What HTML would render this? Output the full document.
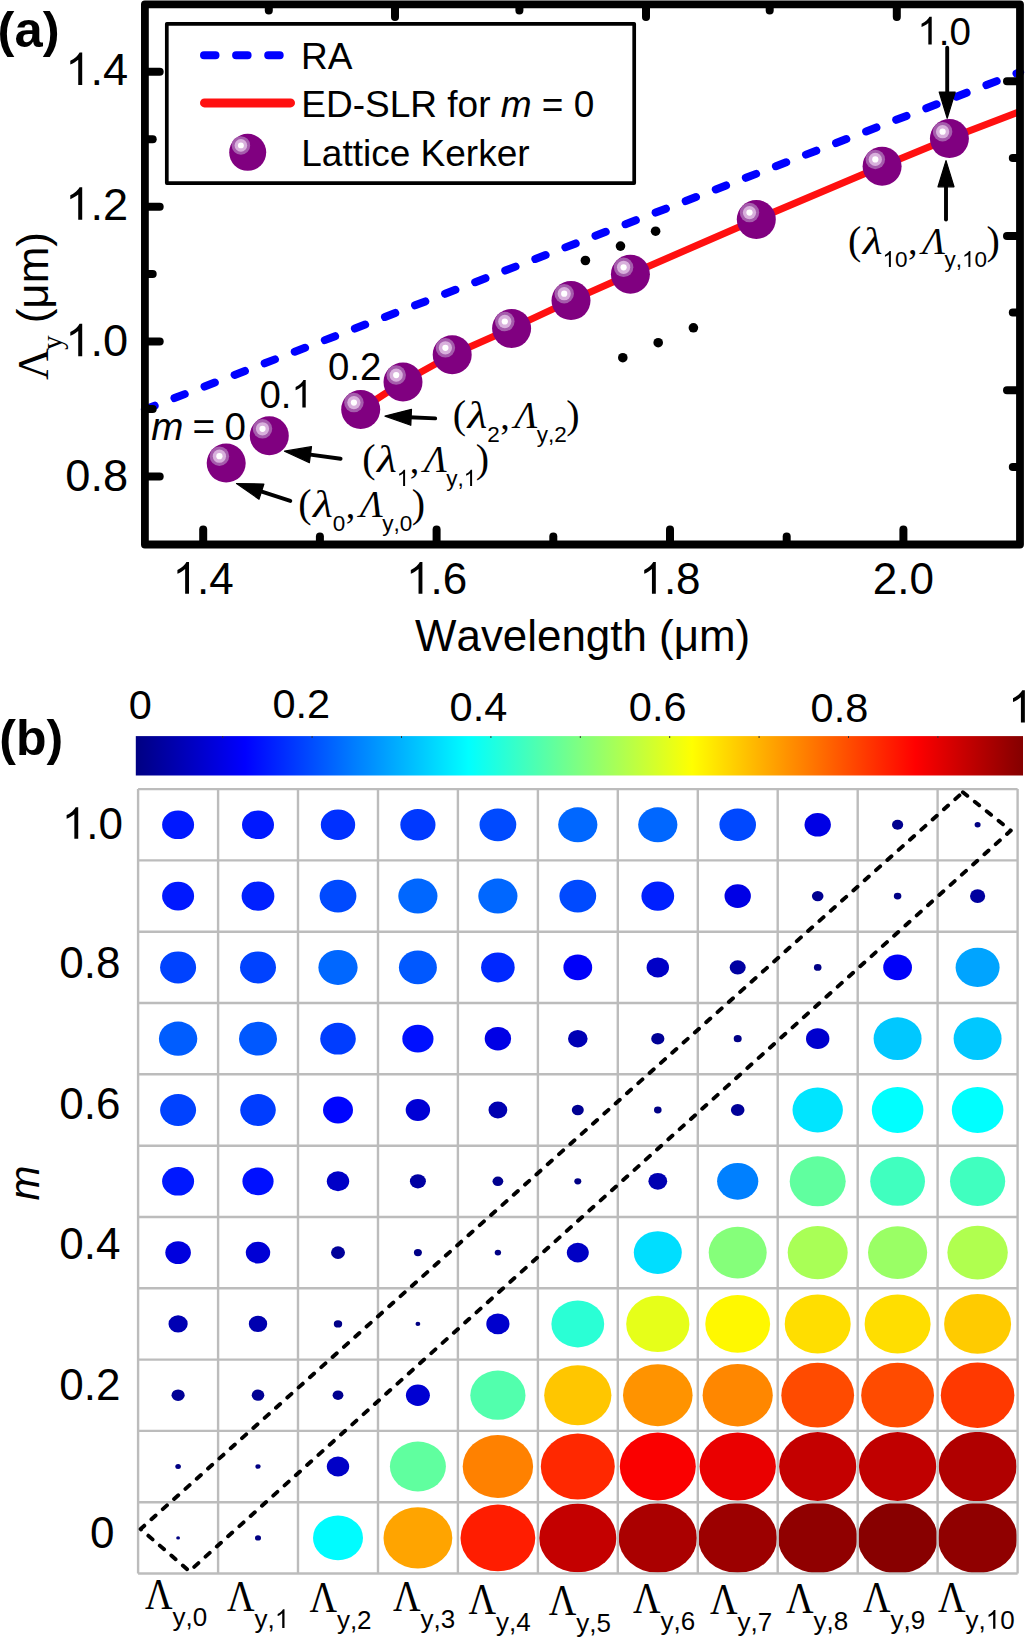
<!DOCTYPE html>
<html><head><meta charset="utf-8"><style>
html,body{margin:0;padding:0;background:#fff;}
svg{display:block;} text{font-kerning:none;}
</style></head><body>
<svg width="1025" height="1638" viewBox="0 0 1025 1638">
<rect width="1025" height="1638" fill="#fff"/>
<line x1="144.9" y1="409.5" x2="1020.1" y2="72.1" stroke="#0000ff" stroke-width="8" stroke-linecap="round" stroke-dasharray="11 21.23" stroke-dashoffset="0.53"/>
<path d="M360.7,409.5 L403.0,382.0 L452.2,354.7 L511.6,328.4 L571.0,300.6 L630.4,274.2 L756.3,219.5 L882.1,166.3 L949.4,138.6 L1020.0,111.5" fill="none" stroke="#ff1010" stroke-width="7" stroke-linejoin="round"/>
<circle cx="585.4" cy="260.5" r="4.8" fill="#000"/>
<circle cx="620.5" cy="246.1" r="4.8" fill="#000"/>
<circle cx="655.6" cy="231.2" r="4.8" fill="#000"/>
<circle cx="622.8" cy="357.7" r="4.8" fill="#000"/>
<circle cx="658.2" cy="342.7" r="4.8" fill="#000"/>
<circle cx="693.4" cy="327.8" r="4.8" fill="#000"/>
<circle cx="226.2" cy="463.1" r="19.5" fill="#800080"/>
<circle cx="219.4" cy="456.2" r="9.75" fill="#a55cac"/>
<circle cx="219.4" cy="456.2" r="6.63" fill="#d8b0dc"/>
<circle cx="219.4" cy="456.2" r="3.12" fill="#fff"/>
<circle cx="269.3" cy="435.7" r="19.5" fill="#800080"/>
<circle cx="262.5" cy="428.8" r="9.75" fill="#a55cac"/>
<circle cx="262.5" cy="428.8" r="6.63" fill="#d8b0dc"/>
<circle cx="262.5" cy="428.8" r="3.12" fill="#fff"/>
<circle cx="360.7" cy="409.5" r="19.5" fill="#800080"/>
<circle cx="353.9" cy="402.6" r="9.75" fill="#a55cac"/>
<circle cx="353.9" cy="402.6" r="6.63" fill="#d8b0dc"/>
<circle cx="353.9" cy="402.6" r="3.12" fill="#fff"/>
<circle cx="403.0" cy="382.0" r="19.5" fill="#800080"/>
<circle cx="396.2" cy="375.1" r="9.75" fill="#a55cac"/>
<circle cx="396.2" cy="375.1" r="6.63" fill="#d8b0dc"/>
<circle cx="396.2" cy="375.1" r="3.12" fill="#fff"/>
<circle cx="452.2" cy="354.7" r="19.5" fill="#800080"/>
<circle cx="445.4" cy="347.8" r="9.75" fill="#a55cac"/>
<circle cx="445.4" cy="347.8" r="6.63" fill="#d8b0dc"/>
<circle cx="445.4" cy="347.8" r="3.12" fill="#fff"/>
<circle cx="511.6" cy="328.4" r="19.5" fill="#800080"/>
<circle cx="504.8" cy="321.5" r="9.75" fill="#a55cac"/>
<circle cx="504.8" cy="321.5" r="6.63" fill="#d8b0dc"/>
<circle cx="504.8" cy="321.5" r="3.12" fill="#fff"/>
<circle cx="571.0" cy="300.6" r="19.5" fill="#800080"/>
<circle cx="564.2" cy="293.7" r="9.75" fill="#a55cac"/>
<circle cx="564.2" cy="293.7" r="6.63" fill="#d8b0dc"/>
<circle cx="564.2" cy="293.7" r="3.12" fill="#fff"/>
<circle cx="630.4" cy="274.2" r="19.5" fill="#800080"/>
<circle cx="623.6" cy="267.3" r="9.75" fill="#a55cac"/>
<circle cx="623.6" cy="267.3" r="6.63" fill="#d8b0dc"/>
<circle cx="623.6" cy="267.3" r="3.12" fill="#fff"/>
<circle cx="756.3" cy="219.5" r="19.5" fill="#800080"/>
<circle cx="749.5" cy="212.6" r="9.75" fill="#a55cac"/>
<circle cx="749.5" cy="212.6" r="6.63" fill="#d8b0dc"/>
<circle cx="749.5" cy="212.6" r="3.12" fill="#fff"/>
<circle cx="882.1" cy="166.3" r="19.5" fill="#800080"/>
<circle cx="875.3" cy="159.4" r="9.75" fill="#a55cac"/>
<circle cx="875.3" cy="159.4" r="6.63" fill="#d8b0dc"/>
<circle cx="875.3" cy="159.4" r="3.12" fill="#fff"/>
<circle cx="949.4" cy="138.6" r="19.5" fill="#800080"/>
<circle cx="942.6" cy="131.7" r="9.75" fill="#a55cac"/>
<circle cx="942.6" cy="131.7" r="6.63" fill="#d8b0dc"/>
<circle cx="942.6" cy="131.7" r="3.12" fill="#fff"/>
<rect x="144.9" y="4.3" width="875.1" height="540.2" fill="none" stroke="#000" stroke-width="7.8" stroke-linejoin="round"/>
<line x1="146" y1="71.7" x2="159.7" y2="71.7" stroke="#000" stroke-width="8" stroke-linecap="round"/>
<line x1="146" y1="206.7" x2="159.7" y2="206.7" stroke="#000" stroke-width="8" stroke-linecap="round"/>
<line x1="146" y1="341.6" x2="159.7" y2="341.6" stroke="#000" stroke-width="8" stroke-linecap="round"/>
<line x1="146" y1="476.6" x2="159.7" y2="476.6" stroke="#000" stroke-width="8" stroke-linecap="round"/>
<line x1="146" y1="139.2" x2="152.7" y2="139.2" stroke="#000" stroke-width="8" stroke-linecap="round"/>
<line x1="146" y1="274.1" x2="152.7" y2="274.1" stroke="#000" stroke-width="8" stroke-linecap="round"/>
<line x1="146" y1="409.1" x2="152.7" y2="409.1" stroke="#000" stroke-width="8" stroke-linecap="round"/>
<line x1="1019" y1="81.3" x2="1007" y2="81.3" stroke="#000" stroke-width="8" stroke-linecap="round"/>
<line x1="1019" y1="235.9" x2="1007" y2="235.9" stroke="#000" stroke-width="8" stroke-linecap="round"/>
<line x1="1019" y1="390.2" x2="1007" y2="390.2" stroke="#000" stroke-width="8" stroke-linecap="round"/>
<line x1="1019" y1="158.1" x2="1012.8" y2="158.1" stroke="#000" stroke-width="8" stroke-linecap="round"/>
<line x1="1019" y1="312.4" x2="1012.8" y2="312.4" stroke="#000" stroke-width="8" stroke-linecap="round"/>
<line x1="1019" y1="467.0" x2="1012.8" y2="467.0" stroke="#000" stroke-width="8" stroke-linecap="round"/>
<line x1="203.2" y1="543" x2="203.2" y2="529.6" stroke="#000" stroke-width="8" stroke-linecap="round"/>
<line x1="436.6" y1="543" x2="436.6" y2="529.6" stroke="#000" stroke-width="8" stroke-linecap="round"/>
<line x1="670.0" y1="543" x2="670.0" y2="529.6" stroke="#000" stroke-width="8" stroke-linecap="round"/>
<line x1="903.4" y1="543" x2="903.4" y2="529.6" stroke="#000" stroke-width="8" stroke-linecap="round"/>
<line x1="319.9" y1="543" x2="319.9" y2="536.5" stroke="#000" stroke-width="8" stroke-linecap="round"/>
<line x1="553.3" y1="543" x2="553.3" y2="536.5" stroke="#000" stroke-width="8" stroke-linecap="round"/>
<line x1="786.7" y1="543" x2="786.7" y2="536.5" stroke="#000" stroke-width="8" stroke-linecap="round"/>
<line x1="395.0" y1="5" x2="395.0" y2="17" stroke="#000" stroke-width="8" stroke-linecap="round"/>
<line x1="646.0" y1="5" x2="646.0" y2="17" stroke="#000" stroke-width="8" stroke-linecap="round"/>
<line x1="896.8" y1="5" x2="896.8" y2="17" stroke="#000" stroke-width="8" stroke-linecap="round"/>
<line x1="268.8" y1="5" x2="268.8" y2="10.5" stroke="#000" stroke-width="8" stroke-linecap="round"/>
<line x1="519.4" y1="5" x2="519.4" y2="10.5" stroke="#000" stroke-width="8" stroke-linecap="round"/>
<line x1="769.7" y1="5" x2="769.7" y2="10.5" stroke="#000" stroke-width="8" stroke-linecap="round"/>
<path transform="translate(65.37,85.1) scale(0.022070,-0.022070)" d="M763,0 L583,0 L583,1147 Q518,1085 412,1023 Q306,961 223,930 L223,1104 Q373,1175 485,1276 Q597,1377 644,1472 L763,1472 Z" fill="#000"/>
<text x="90.50" y="85.1" font-family='"Liberation Sans", sans-serif' font-size="45.2" >.4</text>
<path transform="translate(65.37,219.7) scale(0.022070,-0.022070)" d="M763,0 L583,0 L583,1147 Q518,1085 412,1023 Q306,961 223,930 L223,1104 Q373,1175 485,1276 Q597,1377 644,1472 L763,1472 Z" fill="#000"/>
<text x="90.50" y="219.7" font-family='"Liberation Sans", sans-serif' font-size="45.2" >.2</text>
<path transform="translate(65.37,356.3) scale(0.022070,-0.022070)" d="M763,0 L583,0 L583,1147 Q518,1085 412,1023 Q306,961 223,930 L223,1104 Q373,1175 485,1276 Q597,1377 644,1472 L763,1472 Z" fill="#000"/>
<text x="90.50" y="356.3" font-family='"Liberation Sans", sans-serif' font-size="45.2" >.0</text>
<text x="128.2" y="491.3" font-family='"Liberation Sans", sans-serif' font-size="45.2" text-anchor="end" >0.8</text>
<path transform="translate(172.62,593.7) scale(0.021484,-0.021484)" d="M763,0 L583,0 L583,1147 Q518,1085 412,1023 Q306,961 223,930 L223,1104 Q373,1175 485,1276 Q597,1377 644,1472 L763,1472 Z" fill="#000"/>
<text x="197.09" y="593.7" font-family='"Liberation Sans", sans-serif' font-size="44" >.4</text>
<path transform="translate(406.02,593.7) scale(0.021484,-0.021484)" d="M763,0 L583,0 L583,1147 Q518,1085 412,1023 Q306,961 223,930 L223,1104 Q373,1175 485,1276 Q597,1377 644,1472 L763,1472 Z" fill="#000"/>
<text x="430.49" y="593.7" font-family='"Liberation Sans", sans-serif' font-size="44" >.6</text>
<path transform="translate(639.42,593.7) scale(0.021484,-0.021484)" d="M763,0 L583,0 L583,1147 Q518,1085 412,1023 Q306,961 223,930 L223,1104 Q373,1175 485,1276 Q597,1377 644,1472 L763,1472 Z" fill="#000"/>
<text x="663.89" y="593.7" font-family='"Liberation Sans", sans-serif' font-size="44" >.8</text>
<text x="903.4" y="593.7" font-family='"Liberation Sans", sans-serif' font-size="44" text-anchor="middle" >2.0</text>
<text x="582.6" y="650.6" font-family='"Liberation Sans", sans-serif' font-size="43.9" text-anchor="middle" >Wavelength (&#956;m)</text>
<g transform="translate(47.7,380) rotate(-90)"><text x="0" y="0" font-size="44" font-family='"Liberation Serif", serif'>&#923;<tspan font-size="29" dx="-2" dy="14">y</tspan><tspan font-family='"Liberation Sans", sans-serif' font-size="44" dy="-14"> (&#956;m)</tspan></text></g>
<text x="-2.4" y="46.7" font-family='"Liberation Sans", sans-serif' font-size="50.7" text-anchor="start" font-weight="bold">(a)</text>
<rect x="166.8" y="23.8" width="467.4" height="159.3" fill="#fff" stroke="#000" stroke-width="3.7" stroke-linejoin="round"/>
<line x1="204" y1="55.2" x2="284" y2="55.2" stroke="#0000ff" stroke-width="8" stroke-linecap="round" stroke-dasharray="11.5 20.6"/>
<line x1="204.5" y1="102.9" x2="290.5" y2="102.9" stroke="#ff1010" stroke-width="9" stroke-linecap="round"/>
<circle cx="247.7" cy="152.3" r="18.5" fill="#800080"/>
<circle cx="240.9" cy="145.4" r="9.25" fill="#a55cac"/>
<circle cx="240.9" cy="145.4" r="6.29" fill="#d8b0dc"/>
<circle cx="240.9" cy="145.4" r="2.96" fill="#fff"/>
<text x="301" y="69.3" font-family='"Liberation Sans", sans-serif' font-size="37" text-anchor="start" >RA</text>
<text x="301.3" y="116.8" font-family='"Liberation Sans", sans-serif' font-size="37">ED-SLR for <tspan font-style="italic">m</tspan> = 0</text>
<text x="301.3" y="165.8" font-family='"Liberation Sans", sans-serif' font-size="37" text-anchor="start" >Lattice Kerker</text>
<text x="151.2" y="439.6" font-family='"Liberation Sans", sans-serif' font-size="38.6"><tspan font-style="italic">m</tspan><tspan dx="-1.5"> =</tspan><tspan dx="-1.3"> 0</tspan></text>
<text x="259.40" y="407.6" font-family='"Liberation Sans", sans-serif' font-size="38.4" >0.</text>
<path transform="translate(291.42,407.6) scale(0.018750,-0.018750)" d="M763,0 L583,0 L583,1147 Q518,1085 412,1023 Q306,961 223,930 L223,1104 Q373,1175 485,1276 Q597,1377 644,1472 L763,1472 Z" fill="#000"/>
<text x="328" y="380.2" font-family='"Liberation Sans", sans-serif' font-size="38.4" text-anchor="start" >0.2</text>
<path transform="translate(917.34,44.5) scale(0.018848,-0.018848)" d="M763,0 L583,0 L583,1147 Q518,1085 412,1023 Q306,961 223,930 L223,1104 Q373,1175 485,1276 Q597,1377 644,1472 L763,1472 Z" fill="#000"/>
<text x="938.81" y="44.5" font-family='"Liberation Sans", sans-serif' font-size="38.6" >.0</text>
<line x1="290.3" y1="500.9" x2="259.5" y2="490.9" stroke="#000" stroke-width="3.9" stroke-linecap="round"/>
<polygon points="236.5,483.5 263.9,484.0 259.0,499.2" fill="#000" stroke="#000" stroke-width="1.2" stroke-linejoin="round"/>
<line x1="340.6" y1="458.7" x2="308.5" y2="454.4" stroke="#000" stroke-width="3.9" stroke-linecap="round"/>
<polygon points="284.5,451.2 311.5,446.7 309.4,462.6" fill="#000" stroke="#000" stroke-width="1.2" stroke-linejoin="round"/>
<line x1="435.2" y1="418.4" x2="409.2" y2="417.2" stroke="#000" stroke-width="3.9" stroke-linecap="round"/>
<polygon points="385.0,416.1 411.5,409.3 410.8,425.3" fill="#000" stroke="#000" stroke-width="1.2" stroke-linejoin="round"/>
<line x1="947.2" y1="47.8" x2="947.2" y2="94.0" stroke="#000" stroke-width="3.9" stroke-linecap="round"/>
<polygon points="947.2,118.2 939.2,92.0 955.2,92.0" fill="#000" stroke="#000" stroke-width="1.2" stroke-linejoin="round"/>
<line x1="946.0" y1="219.6" x2="946.0" y2="184.8" stroke="#000" stroke-width="3.9" stroke-linecap="round"/>
<polygon points="946.0,160.6 954.0,186.8 938.0,186.8" fill="#000" stroke="#000" stroke-width="1.2" stroke-linejoin="round"/>
<text x="298.2" y="517.4" font-family='"Liberation Serif", serif' font-size="40" font-style="normal">(</text>
<text transform="translate(312.9,517.4) scale(1.2,1)" font-family='"Liberation Serif", serif' font-size="38" font-style="italic">&#955;</text>
<text x="332.70" y="530.9" font-family='"Liberation Sans", sans-serif' font-size="22.5" >0</text>
<text x="345.7" y="518.0" font-family='"Liberation Serif", serif' font-size="38" font-style="normal">,</text>
<text x="359.9" y="517.4" font-family='"Liberation Serif", serif' font-size="38" font-style="italic">&#923;</text>
<text x="382.20" y="530.9" font-family='"Liberation Sans", sans-serif' font-size="22.5" >y,0</text>
<text x="411.7" y="517.4" font-family='"Liberation Serif", serif' font-size="40" font-style="normal">)</text>
<text x="362.2" y="472.4" font-family='"Liberation Serif", serif' font-size="40" font-style="normal">(</text>
<text transform="translate(376.9,472.4) scale(1.2,1)" font-family='"Liberation Serif", serif' font-size="38" font-style="italic">&#955;</text>
<path transform="translate(396.70,485.90000000000003) scale(0.010986,-0.010986)" d="M763,0 L583,0 L583,1147 Q518,1085 412,1023 Q306,961 223,930 L223,1104 Q373,1175 485,1276 Q597,1377 644,1472 L763,1472 Z" fill="#000"/>
<text x="409.7" y="473.0" font-family='"Liberation Serif", serif' font-size="38" font-style="normal">,</text>
<text x="423.9" y="472.4" font-family='"Liberation Serif", serif' font-size="38" font-style="italic">&#923;</text>
<text x="446.20" y="485.90000000000003" font-family='"Liberation Sans", sans-serif' font-size="22.5" >y,</text>
<path transform="translate(463.70,485.90000000000003) scale(0.010986,-0.010986)" d="M763,0 L583,0 L583,1147 Q518,1085 412,1023 Q306,961 223,930 L223,1104 Q373,1175 485,1276 Q597,1377 644,1472 L763,1472 Z" fill="#000"/>
<text x="475.7" y="472.4" font-family='"Liberation Serif", serif' font-size="40" font-style="normal">)</text>
<text x="452.8" y="428.4" font-family='"Liberation Serif", serif' font-size="40" font-style="normal">(</text>
<text transform="translate(467.5,428.4) scale(1.2,1)" font-family='"Liberation Serif", serif' font-size="38" font-style="italic">&#955;</text>
<text x="487.30" y="441.90000000000003" font-family='"Liberation Sans", sans-serif' font-size="22.5" >2</text>
<text x="500.3" y="429.0" font-family='"Liberation Serif", serif' font-size="38" font-style="normal">,</text>
<text x="514.5" y="428.4" font-family='"Liberation Serif", serif' font-size="38" font-style="italic">&#923;</text>
<text x="536.80" y="441.90000000000003" font-family='"Liberation Sans", sans-serif' font-size="22.5" >y,2</text>
<text x="566.3" y="428.4" font-family='"Liberation Serif", serif' font-size="40" font-style="normal">)</text>
<text x="848.0" y="253.6" font-family='"Liberation Serif", serif' font-size="40" font-style="normal">(</text>
<text transform="translate(862.7,253.6) scale(1.2,1)" font-family='"Liberation Serif", serif' font-size="38" font-style="italic">&#955;</text>
<path transform="translate(882.50,267.1) scale(0.010986,-0.010986)" d="M763,0 L583,0 L583,1147 Q518,1085 412,1023 Q306,961 223,930 L223,1104 Q373,1175 485,1276 Q597,1377 644,1472 L763,1472 Z" fill="#000"/>
<text x="895.01" y="267.1" font-family='"Liberation Sans", sans-serif' font-size="22.5" >0</text>
<text x="908.0" y="254.2" font-family='"Liberation Serif", serif' font-size="38" font-style="normal">,</text>
<text x="922.2" y="253.6" font-family='"Liberation Serif", serif' font-size="38" font-style="italic">&#923;</text>
<text x="944.50" y="267.1" font-family='"Liberation Sans", sans-serif' font-size="22.5" >y,</text>
<path transform="translate(962.00,267.1) scale(0.010986,-0.010986)" d="M763,0 L583,0 L583,1147 Q518,1085 412,1023 Q306,961 223,930 L223,1104 Q373,1175 485,1276 Q597,1377 644,1472 L763,1472 Z" fill="#000"/>
<text x="974.51" y="267.1" font-family='"Liberation Sans", sans-serif' font-size="22.5" >0</text>
<text x="986.5" y="253.6" font-family='"Liberation Serif", serif' font-size="40" font-style="normal">)</text>
<text x="-0.7" y="755.3" font-family='"Liberation Sans", sans-serif' font-size="50" text-anchor="start" font-weight="bold">(b)</text>
<defs><linearGradient id="jet" gradientUnits="userSpaceOnUse" x1="133.3" x2="1027.3" y1="0" y2="0"><stop offset="0.0000" stop-color="#000080"/><stop offset="0.0156" stop-color="#00008f"/><stop offset="0.0312" stop-color="#00009f"/><stop offset="0.0469" stop-color="#0000af"/><stop offset="0.0625" stop-color="#0000bf"/><stop offset="0.0781" stop-color="#0000cf"/><stop offset="0.0938" stop-color="#0000df"/><stop offset="0.1094" stop-color="#0000ef"/><stop offset="0.1250" stop-color="#0000ff"/><stop offset="0.1406" stop-color="#0010ff"/><stop offset="0.1562" stop-color="#0020ff"/><stop offset="0.1719" stop-color="#0030ff"/><stop offset="0.1875" stop-color="#0040ff"/><stop offset="0.2031" stop-color="#0050ff"/><stop offset="0.2188" stop-color="#0060ff"/><stop offset="0.2344" stop-color="#0070ff"/><stop offset="0.2500" stop-color="#0080ff"/><stop offset="0.2656" stop-color="#008fff"/><stop offset="0.2812" stop-color="#009fff"/><stop offset="0.2969" stop-color="#00afff"/><stop offset="0.3125" stop-color="#00bfff"/><stop offset="0.3281" stop-color="#00cfff"/><stop offset="0.3438" stop-color="#00dfff"/><stop offset="0.3594" stop-color="#00efff"/><stop offset="0.3750" stop-color="#00ffff"/><stop offset="0.3906" stop-color="#10ffef"/><stop offset="0.4062" stop-color="#20ffdf"/><stop offset="0.4219" stop-color="#30ffcf"/><stop offset="0.4375" stop-color="#40ffbf"/><stop offset="0.4531" stop-color="#50ffaf"/><stop offset="0.4688" stop-color="#60ff9f"/><stop offset="0.4844" stop-color="#70ff8f"/><stop offset="0.5000" stop-color="#80ff80"/><stop offset="0.5156" stop-color="#8fff70"/><stop offset="0.5312" stop-color="#9fff60"/><stop offset="0.5469" stop-color="#afff50"/><stop offset="0.5625" stop-color="#bfff40"/><stop offset="0.5781" stop-color="#cfff30"/><stop offset="0.5938" stop-color="#dfff20"/><stop offset="0.6094" stop-color="#efff10"/><stop offset="0.6250" stop-color="#ffff00"/><stop offset="0.6406" stop-color="#ffef00"/><stop offset="0.6562" stop-color="#ffdf00"/><stop offset="0.6719" stop-color="#ffcf00"/><stop offset="0.6875" stop-color="#ffbf00"/><stop offset="0.7031" stop-color="#ffaf00"/><stop offset="0.7188" stop-color="#ff9f00"/><stop offset="0.7344" stop-color="#ff8f00"/><stop offset="0.7500" stop-color="#ff8000"/><stop offset="0.7656" stop-color="#ff7000"/><stop offset="0.7812" stop-color="#ff6000"/><stop offset="0.7969" stop-color="#ff5000"/><stop offset="0.8125" stop-color="#ff4000"/><stop offset="0.8281" stop-color="#ff3000"/><stop offset="0.8438" stop-color="#ff2000"/><stop offset="0.8594" stop-color="#ff1000"/><stop offset="0.8750" stop-color="#ff0000"/><stop offset="0.8906" stop-color="#ef0000"/><stop offset="0.9062" stop-color="#df0000"/><stop offset="0.9219" stop-color="#cf0000"/><stop offset="0.9375" stop-color="#bf0000"/><stop offset="0.9531" stop-color="#af0000"/><stop offset="0.9688" stop-color="#9f0000"/><stop offset="0.9844" stop-color="#8f0000"/><stop offset="1.0000" stop-color="#800000"/></linearGradient></defs>
<rect x="135.8" y="736.1" width="887.2" height="39.4" fill="url(#jet)"/>
<line x1="222.7" y1="736.1" x2="222.7" y2="738" stroke="#333" stroke-width="1"/>
<line x1="312.1" y1="736.1" x2="312.1" y2="738" stroke="#333" stroke-width="1"/>
<line x1="401.5" y1="736.1" x2="401.5" y2="738" stroke="#333" stroke-width="1"/>
<line x1="490.9" y1="736.1" x2="490.9" y2="738" stroke="#333" stroke-width="1"/>
<line x1="580.3" y1="736.1" x2="580.3" y2="738" stroke="#333" stroke-width="1"/>
<line x1="669.7" y1="736.1" x2="669.7" y2="738" stroke="#333" stroke-width="1"/>
<line x1="759.1" y1="736.1" x2="759.1" y2="738" stroke="#333" stroke-width="1"/>
<line x1="848.5" y1="736.1" x2="848.5" y2="738" stroke="#333" stroke-width="1"/>
<line x1="937.9" y1="736.1" x2="937.9" y2="738" stroke="#333" stroke-width="1"/>
<text x="140.2" y="719" font-family='"Liberation Sans", sans-serif' font-size="41.5" text-anchor="middle" >0</text>
<text x="301.3" y="718.2" font-family='"Liberation Sans", sans-serif' font-size="41.5" text-anchor="middle" >0.2</text>
<text x="478.4" y="721.3" font-family='"Liberation Sans", sans-serif' font-size="41.5" text-anchor="middle" >0.4</text>
<text x="657.7" y="721.2" font-family='"Liberation Sans", sans-serif' font-size="41.5" text-anchor="middle" >0.6</text>
<text x="839.4" y="722.1" font-family='"Liberation Sans", sans-serif' font-size="41.5" text-anchor="middle" >0.8</text>
<path transform="translate(1008.10,722.5) scale(0.021973,-0.021973)" d="M763,0 L583,0 L583,1147 Q518,1085 412,1023 Q306,961 223,930 L223,1104 Q373,1175 485,1276 Q597,1377 644,1472 L763,1472 Z" fill="#000"/>
<ellipse cx="178.1" cy="824.8" rx="16.0" ry="14.3" fill="#0018ff"/>
<ellipse cx="258.0" cy="824.8" rx="16.0" ry="14.3" fill="#0018ff"/>
<ellipse cx="338.0" cy="824.8" rx="17.2" ry="15.3" fill="#0030ff"/>
<ellipse cx="417.9" cy="824.8" rx="17.6" ry="15.7" fill="#0039ff"/>
<ellipse cx="497.9" cy="824.8" rx="18.4" ry="16.4" fill="#004aff"/>
<ellipse cx="577.8" cy="824.8" rx="19.6" ry="17.5" fill="#0067ff"/>
<ellipse cx="657.8" cy="824.8" rx="19.6" ry="17.5" fill="#0067ff"/>
<ellipse cx="737.7" cy="824.8" rx="18.3" ry="16.3" fill="#0048ff"/>
<ellipse cx="817.7" cy="824.8" rx="13.2" ry="11.8" fill="#0000e5"/>
<ellipse cx="897.6" cy="824.8" rx="5.6" ry="5.0" fill="#00008f"/>
<ellipse cx="977.6" cy="824.8" rx="3.0" ry="2.7" fill="#000083"/>
<ellipse cx="178.1" cy="896.1" rx="16.0" ry="14.3" fill="#0018ff"/>
<ellipse cx="258.0" cy="896.1" rx="16.4" ry="14.6" fill="#0020ff"/>
<ellipse cx="338.0" cy="896.1" rx="18.4" ry="16.4" fill="#004aff"/>
<ellipse cx="417.9" cy="896.1" rx="19.6" ry="17.5" fill="#0067ff"/>
<ellipse cx="497.9" cy="896.1" rx="19.6" ry="17.5" fill="#0067ff"/>
<ellipse cx="577.8" cy="896.1" rx="18.4" ry="16.4" fill="#004aff"/>
<ellipse cx="657.8" cy="896.1" rx="16.4" ry="14.6" fill="#0020ff"/>
<ellipse cx="737.7" cy="896.1" rx="13.2" ry="11.8" fill="#0000e5"/>
<ellipse cx="817.7" cy="896.1" rx="5.8" ry="5.2" fill="#000091"/>
<ellipse cx="897.6" cy="896.1" rx="3.8" ry="3.4" fill="#000086"/>
<ellipse cx="977.6" cy="896.1" rx="7.6" ry="6.8" fill="#00009f"/>
<ellipse cx="178.1" cy="967.4" rx="18.0" ry="16.0" fill="#0042ff"/>
<ellipse cx="258.0" cy="967.4" rx="18.0" ry="16.0" fill="#0042ff"/>
<ellipse cx="338.0" cy="967.4" rx="19.6" ry="17.5" fill="#0067ff"/>
<ellipse cx="417.9" cy="967.4" rx="19.0" ry="16.9" fill="#0058ff"/>
<ellipse cx="497.9" cy="967.4" rx="16.8" ry="15.0" fill="#0028ff"/>
<ellipse cx="577.8" cy="967.4" rx="14.4" ry="12.8" fill="#0000f9"/>
<ellipse cx="657.8" cy="967.4" rx="11.2" ry="10.0" fill="#0000c7"/>
<ellipse cx="737.7" cy="967.4" rx="8.0" ry="7.1" fill="#0000a2"/>
<ellipse cx="817.7" cy="967.4" rx="3.8" ry="3.4" fill="#000086"/>
<ellipse cx="897.6" cy="967.4" rx="14.4" ry="12.8" fill="#0000f9"/>
<ellipse cx="977.6" cy="967.4" rx="22.0" ry="19.6" fill="#00a4ff"/>
<ellipse cx="178.1" cy="1038.7" rx="19.2" ry="17.1" fill="#005dff"/>
<ellipse cx="258.0" cy="1038.7" rx="19.0" ry="16.9" fill="#0058ff"/>
<ellipse cx="338.0" cy="1038.7" rx="17.8" ry="15.9" fill="#003dff"/>
<ellipse cx="417.9" cy="1038.7" rx="15.6" ry="13.9" fill="#0010ff"/>
<ellipse cx="497.9" cy="1038.7" rx="13.2" ry="11.8" fill="#0000e5"/>
<ellipse cx="577.8" cy="1038.7" rx="9.8" ry="8.7" fill="#0000b5"/>
<ellipse cx="657.8" cy="1038.7" rx="6.6" ry="5.8" fill="#000096"/>
<ellipse cx="737.7" cy="1038.7" rx="4.0" ry="3.6" fill="#000087"/>
<ellipse cx="817.7" cy="1038.7" rx="11.7" ry="10.4" fill="#0000ce"/>
<ellipse cx="897.6" cy="1038.7" rx="24.0" ry="21.4" fill="#00c8ff"/>
<ellipse cx="977.6" cy="1038.7" rx="24.0" ry="21.4" fill="#00c8ff"/>
<ellipse cx="178.1" cy="1110.0" rx="18.0" ry="16.0" fill="#0042ff"/>
<ellipse cx="258.0" cy="1110.0" rx="17.8" ry="15.9" fill="#003dff"/>
<ellipse cx="338.0" cy="1110.0" rx="15.0" ry="13.4" fill="#0005ff"/>
<ellipse cx="417.9" cy="1110.0" rx="12.2" ry="10.9" fill="#0000d5"/>
<ellipse cx="497.9" cy="1110.0" rx="9.4" ry="8.4" fill="#0000b1"/>
<ellipse cx="577.8" cy="1110.0" rx="6.0" ry="5.3" fill="#000092"/>
<ellipse cx="657.8" cy="1110.0" rx="3.8" ry="3.4" fill="#000086"/>
<ellipse cx="737.7" cy="1110.0" rx="6.8" ry="6.1" fill="#000098"/>
<ellipse cx="817.7" cy="1110.0" rx="25.2" ry="22.5" fill="#00e5ff"/>
<ellipse cx="897.6" cy="1110.0" rx="25.8" ry="23.0" fill="#00ffff"/>
<ellipse cx="977.6" cy="1110.0" rx="25.8" ry="23.0" fill="#00ffff"/>
<ellipse cx="178.1" cy="1181.3" rx="16.0" ry="14.3" fill="#0018ff"/>
<ellipse cx="258.0" cy="1181.3" rx="15.6" ry="13.9" fill="#0010ff"/>
<ellipse cx="338.0" cy="1181.3" rx="11.2" ry="10.0" fill="#0000c7"/>
<ellipse cx="417.9" cy="1181.3" rx="8.0" ry="7.1" fill="#0000a2"/>
<ellipse cx="497.9" cy="1181.3" rx="5.4" ry="4.8" fill="#00008e"/>
<ellipse cx="577.8" cy="1181.3" rx="3.5" ry="3.1" fill="#000085"/>
<ellipse cx="657.8" cy="1181.3" rx="9.4" ry="8.4" fill="#0000b1"/>
<ellipse cx="737.7" cy="1181.3" rx="20.6" ry="18.4" fill="#0080ff"/>
<ellipse cx="817.7" cy="1181.3" rx="28.0" ry="25.0" fill="#60ff9f"/>
<ellipse cx="897.6" cy="1181.3" rx="27.4" ry="24.5" fill="#40ffbf"/>
<ellipse cx="977.6" cy="1181.3" rx="27.6" ry="24.6" fill="#40ffbf"/>
<ellipse cx="178.1" cy="1252.6" rx="12.8" ry="11.4" fill="#0000de"/>
<ellipse cx="258.0" cy="1252.6" rx="12.2" ry="10.9" fill="#0000d5"/>
<ellipse cx="338.0" cy="1252.6" rx="7.0" ry="6.3" fill="#00009a"/>
<ellipse cx="417.9" cy="1252.6" rx="4.0" ry="3.6" fill="#000087"/>
<ellipse cx="497.9" cy="1252.6" rx="3.2" ry="2.9" fill="#000084"/>
<ellipse cx="577.8" cy="1252.6" rx="11.0" ry="9.8" fill="#0000c4"/>
<ellipse cx="657.8" cy="1252.6" rx="24.0" ry="21.4" fill="#00deff"/>
<ellipse cx="737.7" cy="1252.6" rx="29.0" ry="25.9" fill="#85ff7a"/>
<ellipse cx="817.7" cy="1252.6" rx="30.0" ry="26.7" fill="#a9ff56"/>
<ellipse cx="897.6" cy="1252.6" rx="29.6" ry="26.4" fill="#9aff65"/>
<ellipse cx="977.6" cy="1252.6" rx="30.2" ry="26.9" fill="#b0ff4f"/>
<ellipse cx="178.1" cy="1323.9" rx="9.6" ry="8.6" fill="#0000b3"/>
<ellipse cx="258.0" cy="1323.9" rx="9.2" ry="8.2" fill="#0000af"/>
<ellipse cx="338.0" cy="1323.9" rx="4.2" ry="3.7" fill="#000088"/>
<ellipse cx="417.9" cy="1323.9" rx="2.4" ry="2.1" fill="#000082"/>
<ellipse cx="497.9" cy="1323.9" rx="11.6" ry="10.3" fill="#0000cd"/>
<ellipse cx="577.8" cy="1323.9" rx="26.4" ry="23.5" fill="#2affd5"/>
<ellipse cx="657.8" cy="1323.9" rx="31.6" ry="28.2" fill="#e6ff19"/>
<ellipse cx="737.7" cy="1323.9" rx="32.4" ry="28.9" fill="#fff800"/>
<ellipse cx="817.7" cy="1323.9" rx="33.0" ry="29.5" fill="#ffde00"/>
<ellipse cx="897.6" cy="1323.9" rx="33.0" ry="29.5" fill="#ffde00"/>
<ellipse cx="977.6" cy="1323.9" rx="33.5" ry="29.8" fill="#ffcb00"/>
<ellipse cx="178.1" cy="1395.2" rx="6.6" ry="5.8" fill="#000096"/>
<ellipse cx="258.0" cy="1395.2" rx="6.3" ry="5.6" fill="#000094"/>
<ellipse cx="338.0" cy="1395.2" rx="5.4" ry="4.8" fill="#00008e"/>
<ellipse cx="417.9" cy="1395.2" rx="12.0" ry="10.7" fill="#0000d2"/>
<ellipse cx="497.9" cy="1395.2" rx="27.6" ry="24.6" fill="#52ffad"/>
<ellipse cx="577.8" cy="1395.2" rx="33.6" ry="30.0" fill="#ffc600"/>
<ellipse cx="657.8" cy="1395.2" rx="34.8" ry="31.0" fill="#ff9300"/>
<ellipse cx="737.7" cy="1395.2" rx="35.1" ry="31.3" fill="#ff8700"/>
<ellipse cx="817.7" cy="1395.2" rx="36.4" ry="32.4" fill="#ff4b00"/>
<ellipse cx="897.6" cy="1395.2" rx="36.4" ry="32.4" fill="#ff4b00"/>
<ellipse cx="977.6" cy="1395.2" rx="36.8" ry="32.8" fill="#ff3900"/>
<ellipse cx="178.1" cy="1466.5" rx="2.8" ry="2.5" fill="#000083"/>
<ellipse cx="258.0" cy="1466.5" rx="2.6" ry="2.3" fill="#000082"/>
<ellipse cx="338.0" cy="1466.5" rx="11.2" ry="10.0" fill="#0000c7"/>
<ellipse cx="417.9" cy="1466.5" rx="28.0" ry="25.0" fill="#60ff9f"/>
<ellipse cx="497.9" cy="1466.5" rx="35.2" ry="31.4" fill="#ff8100"/>
<ellipse cx="577.8" cy="1466.5" rx="37.0" ry="33.0" fill="#ff2800"/>
<ellipse cx="657.8" cy="1466.5" rx="38.0" ry="33.9" fill="#fa0000"/>
<ellipse cx="737.7" cy="1466.5" rx="38.2" ry="34.1" fill="#ea0000"/>
<ellipse cx="817.7" cy="1466.5" rx="38.6" ry="34.4" fill="#c40000"/>
<ellipse cx="897.6" cy="1466.5" rx="38.7" ry="34.5" fill="#c00000"/>
<ellipse cx="977.6" cy="1466.5" rx="39.0" ry="34.8" fill="#b00000"/>
<ellipse cx="178.1" cy="1537.9" rx="1.9" ry="1.7" fill="#000081"/>
<ellipse cx="258.0" cy="1537.9" rx="3.0" ry="2.7" fill="#000083"/>
<ellipse cx="338.0" cy="1537.9" rx="25.0" ry="22.3" fill="#00fcff"/>
<ellipse cx="417.9" cy="1537.9" rx="34.4" ry="30.7" fill="#ffa400"/>
<ellipse cx="497.9" cy="1537.9" rx="37.4" ry="33.3" fill="#ff1d00"/>
<ellipse cx="577.8" cy="1537.9" rx="38.6" ry="34.4" fill="#c40000"/>
<ellipse cx="657.8" cy="1537.9" rx="39.2" ry="34.9" fill="#aa0000"/>
<ellipse cx="737.7" cy="1537.9" rx="39.4" ry="35.1" fill="#9c0000"/>
<ellipse cx="817.7" cy="1537.9" rx="39.7" ry="35.4" fill="#900000"/>
<ellipse cx="897.6" cy="1537.9" rx="40.0" ry="35.7" fill="#880000"/>
<ellipse cx="977.6" cy="1537.9" rx="39.7" ry="35.4" fill="#900000"/>
<line x1="138.1" y1="789.1" x2="138.1" y2="1573.5" stroke="#bcbcbc" stroke-width="2.4"/>
<line x1="138.1" y1="789.1" x2="1017.6" y2="789.1" stroke="#bcbcbc" stroke-width="2.4"/>
<line x1="218.1" y1="789.1" x2="218.1" y2="1573.5" stroke="#bcbcbc" stroke-width="2.4"/>
<line x1="138.1" y1="860.4" x2="1017.6" y2="860.4" stroke="#bcbcbc" stroke-width="2.4"/>
<line x1="298.0" y1="789.1" x2="298.0" y2="1573.5" stroke="#bcbcbc" stroke-width="2.4"/>
<line x1="138.1" y1="931.7" x2="1017.6" y2="931.7" stroke="#bcbcbc" stroke-width="2.4"/>
<line x1="378.0" y1="789.1" x2="378.0" y2="1573.5" stroke="#bcbcbc" stroke-width="2.4"/>
<line x1="138.1" y1="1003.0" x2="1017.6" y2="1003.0" stroke="#bcbcbc" stroke-width="2.4"/>
<line x1="457.9" y1="789.1" x2="457.9" y2="1573.5" stroke="#bcbcbc" stroke-width="2.4"/>
<line x1="138.1" y1="1074.3" x2="1017.6" y2="1074.3" stroke="#bcbcbc" stroke-width="2.4"/>
<line x1="537.9" y1="789.1" x2="537.9" y2="1573.5" stroke="#bcbcbc" stroke-width="2.4"/>
<line x1="138.1" y1="1145.7" x2="1017.6" y2="1145.7" stroke="#bcbcbc" stroke-width="2.4"/>
<line x1="617.8" y1="789.1" x2="617.8" y2="1573.5" stroke="#bcbcbc" stroke-width="2.4"/>
<line x1="138.1" y1="1217.0" x2="1017.6" y2="1217.0" stroke="#bcbcbc" stroke-width="2.4"/>
<line x1="697.8" y1="789.1" x2="697.8" y2="1573.5" stroke="#bcbcbc" stroke-width="2.4"/>
<line x1="138.1" y1="1288.3" x2="1017.6" y2="1288.3" stroke="#bcbcbc" stroke-width="2.4"/>
<line x1="777.7" y1="789.1" x2="777.7" y2="1573.5" stroke="#bcbcbc" stroke-width="2.4"/>
<line x1="138.1" y1="1359.6" x2="1017.6" y2="1359.6" stroke="#bcbcbc" stroke-width="2.4"/>
<line x1="857.7" y1="789.1" x2="857.7" y2="1573.5" stroke="#bcbcbc" stroke-width="2.4"/>
<line x1="138.1" y1="1430.9" x2="1017.6" y2="1430.9" stroke="#bcbcbc" stroke-width="2.4"/>
<line x1="937.6" y1="789.1" x2="937.6" y2="1573.5" stroke="#bcbcbc" stroke-width="2.4"/>
<line x1="138.1" y1="1502.2" x2="1017.6" y2="1502.2" stroke="#bcbcbc" stroke-width="2.4"/>
<line x1="1017.6" y1="789.1" x2="1017.6" y2="1573.5" stroke="#bcbcbc" stroke-width="2.4"/>
<line x1="138.1" y1="1573.5" x2="1017.6" y2="1573.5" stroke="#bcbcbc" stroke-width="2.4"/>
<polygon points="962.9,792.3 1010.8,830.5 189.4,1571.2 140.6,1529" fill="none" stroke="#000" stroke-width="3.9" stroke-linecap="round" stroke-linejoin="round" stroke-dasharray="5.6 9.6"/>
<path transform="translate(61.83,838.8) scale(0.021484,-0.021484)" d="M763,0 L583,0 L583,1147 Q518,1085 412,1023 Q306,961 223,930 L223,1104 Q373,1175 485,1276 Q597,1377 644,1472 L763,1472 Z" fill="#000"/>
<text x="86.30" y="838.8" font-family='"Liberation Sans", sans-serif' font-size="44" >.0</text>
<text x="120.5" y="978.3" font-family='"Liberation Sans", sans-serif' font-size="44" text-anchor="end" >0.8</text>
<text x="120.5" y="1118.6" font-family='"Liberation Sans", sans-serif' font-size="44" text-anchor="end" >0.6</text>
<text x="120.5" y="1258.9" font-family='"Liberation Sans", sans-serif' font-size="44" text-anchor="end" >0.4</text>
<text x="120.5" y="1399.6" font-family='"Liberation Sans", sans-serif' font-size="44" text-anchor="end" >0.2</text>
<text x="114.5" y="1548.1" font-family='"Liberation Sans", sans-serif' font-size="44" text-anchor="end" >0</text>
<g transform="translate(38.8,1200.6) rotate(-90)"><text x="0" y="0" font-family='"Liberation Sans", sans-serif' font-size="42" font-style="italic">m</text></g>
<text transform="translate(145.1,1608.6) scale(0.877,1)" font-family='"Liberation Serif", serif' font-size="43.5">&#923;</text>
<text x="172.60" y="1625.6" font-family='"Liberation Sans", sans-serif' font-size="26" >y,0</text>
<text transform="translate(227.1,1610.9) scale(0.877,1)" font-family='"Liberation Serif", serif' font-size="43.5">&#923;</text>
<text x="254.60" y="1627.9" font-family='"Liberation Sans", sans-serif' font-size="26" >y,</text>
<path transform="translate(274.82,1627.9) scale(0.012695,-0.012695)" d="M763,0 L583,0 L583,1147 Q518,1085 412,1023 Q306,961 223,930 L223,1104 Q373,1175 485,1276 Q597,1377 644,1472 L763,1472 Z" fill="#000"/>
<text transform="translate(309.4,1611.8) scale(0.877,1)" font-family='"Liberation Serif", serif' font-size="43.5">&#923;</text>
<text x="336.90" y="1628.8" font-family='"Liberation Sans", sans-serif' font-size="26" >y,2</text>
<text transform="translate(393.0,1610.9) scale(0.877,1)" font-family='"Liberation Serif", serif' font-size="43.5">&#923;</text>
<text x="420.50" y="1627.9" font-family='"Liberation Sans", sans-serif' font-size="26" >y,3</text>
<text transform="translate(468.6,1614.0) scale(0.877,1)" font-family='"Liberation Serif", serif' font-size="43.5">&#923;</text>
<text x="496.10" y="1631.0" font-family='"Liberation Sans", sans-serif' font-size="26" >y,4</text>
<text transform="translate(548.8,1615.0) scale(0.877,1)" font-family='"Liberation Serif", serif' font-size="43.5">&#923;</text>
<text x="576.30" y="1632.0" font-family='"Liberation Sans", sans-serif' font-size="26" >y,5</text>
<text transform="translate(633.0,1613.3) scale(0.877,1)" font-family='"Liberation Serif", serif' font-size="43.5">&#923;</text>
<text x="660.50" y="1630.3" font-family='"Liberation Sans", sans-serif' font-size="26" >y,6</text>
<text transform="translate(710.1,1613.7) scale(0.877,1)" font-family='"Liberation Serif", serif' font-size="43.5">&#923;</text>
<text x="737.60" y="1630.7" font-family='"Liberation Sans", sans-serif' font-size="26" >y,7</text>
<text transform="translate(786.0,1612.5) scale(0.877,1)" font-family='"Liberation Serif", serif' font-size="43.5">&#923;</text>
<text x="813.50" y="1629.5" font-family='"Liberation Sans", sans-serif' font-size="26" >y,8</text>
<text transform="translate(863.0,1611.7) scale(0.877,1)" font-family='"Liberation Serif", serif' font-size="43.5">&#923;</text>
<text x="890.50" y="1628.7" font-family='"Liberation Sans", sans-serif' font-size="26" >y,9</text>
<text transform="translate(938.0,1611.7) scale(0.877,1)" font-family='"Liberation Serif", serif' font-size="43.5">&#923;</text>
<text x="965.50" y="1628.7" font-family='"Liberation Sans", sans-serif' font-size="26" >y,</text>
<path transform="translate(985.72,1628.7) scale(0.012695,-0.012695)" d="M763,0 L583,0 L583,1147 Q518,1085 412,1023 Q306,961 223,930 L223,1104 Q373,1175 485,1276 Q597,1377 644,1472 L763,1472 Z" fill="#000"/>
<text x="1000.18" y="1628.7" font-family='"Liberation Sans", sans-serif' font-size="26" >0</text>
</svg></body></html>
